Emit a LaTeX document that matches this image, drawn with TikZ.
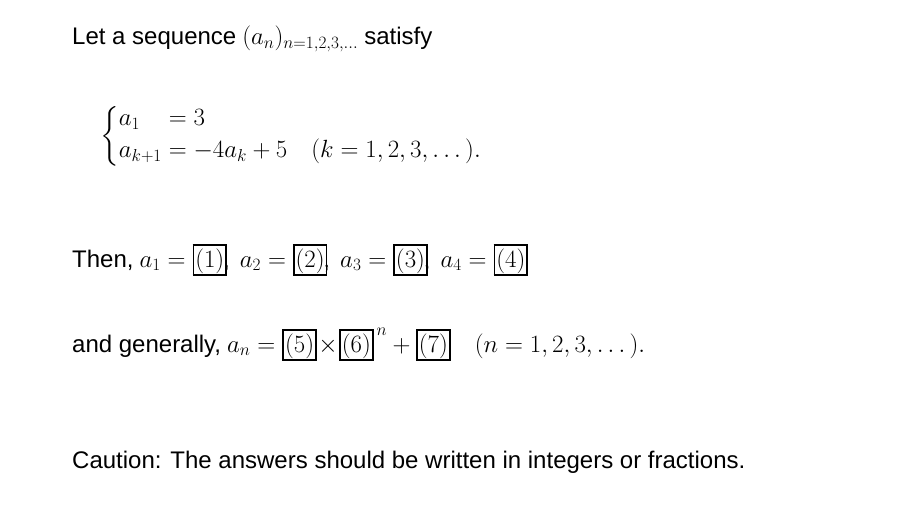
\documentclass[tikz,border=0pt]{standalone}
\usepackage{amsmath}
\usepackage{fontspec}
\setmainfont{Liberation Serif}
\newfontfamily\sansf{Liberation Sans}
\newcommand{\bx}[1]{{\setlength{\fboxrule}{1.8pt}\setlength{\fboxsep}{1pt}\fbox{\rule[-6pt]{0pt}{26pt}$(#1)$}}}
\begin{document}
\begin{tikzpicture}[x=1pt,y=-1pt,txt/.style={anchor=base west,inner sep=0pt,font=\fontsize{24}{28}\selectfont}]
\useasboundingbox (0,0) rectangle (901,513);
\node[txt] (l1) at (72,45) {{\sansf Let a sequence} $(a_n)_{n=1,2,3,\dots}$ {\sansf satisfy}};
\node[txt,anchor=west] (sys) at (100,136) {$\left\{\begin{array}{@{}l@{\;}l} a_1 &= 3\\[4pt] a_{k+1} &= -4a_k+5\quad (k=1,2,3,\dots).\end{array}\right.$};
\node[txt] (l3) at (72,267) {{\sansf Then,} $a_1=\bx{1}\!,\ a_2=\bx{2}\!,\ a_3=\bx{3}\!,\ a_4=\bx{4}$};
\node[txt] (l4) at (72,352) {{\sansf and generally,} $a_n=\bx{5}\!\times\!\bx{6}^{\,n}+\bx{7}\quad (n=1,2,3,\dots).$};
\node[txt] (l5) at (72,468) {\sansf Caution: The answers should be written in integers or fractions.};
\end{tikzpicture}
\end{document}
